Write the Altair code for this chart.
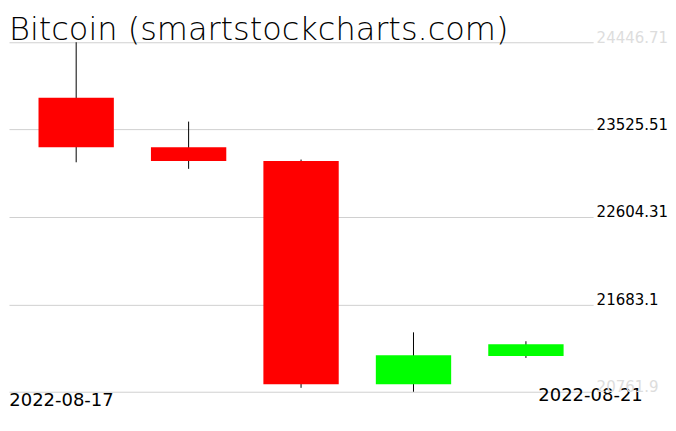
import pandas as pd
import altair as alt

# Daily candles
dates = ["2022-08-17", "2022-08-18", "2022-08-19", "2022-08-20", "2022-08-21"]
opens = [23862, 23339, 23195, 20840, 21139]
highs = [24446.71, 23610, 23210, 21388, 21294]
lows = [23181, 23112, 20803, 20761.9, 21118]
closes = [23339, 23195, 20840, 21146, 21262]

# right-axis tick values (min/max shown in light grey)
y_ticks = [20761.9, 21683.1, 22604.31, 23525.51, 24446.71]

df = pd.DataFrame({"date": dates, "open": opens, "high": highs, "low": lows, "close": closes})

first, last = dates[0], dates[-1]
is_first = f"datum.value == '{first}'"

x_enc = alt.X(
    "date:O",
    scale=alt.Scale(paddingInner=0.33, paddingOuter=0.2625),
    axis=alt.Axis(
        title=None, domain=False, ticks=False, grid=False,
        labelAngle=0, labelOverlap=False, labelBound=False,
        labelExpr=f"{is_first} || datum.value == '{last}' ? datum.label : ''",
        labelAlign={"condition": {"test": is_first, "value": "left"}, "value": "right"},
        labelOffset={"condition": {"test": is_first, "value": -67}, "value": 117},
        labelPadding={"condition": {"test": is_first, "value": 0}, "value": -5},
        labelBaseline="top",
        labelFont="DejaVu Sans", labelFontSize=18, labelColor="black",
    ),
)

y_scale = alt.Scale(domain=[y_ticks[0], y_ticks[-1]], nice=False, zero=False)
y_axis = alt.Axis(
    title=None, orient="right", values=y_ticks, domain=False, ticks=False,
    grid=True, gridColor="#d0d0d0", gridWidth=1,
    labelExpr="'' + datum.value",
    labelFont="DejaVu Sans", labelFontSize=15, labelPadding=3,
    labelBaseline="alphabetic", labelFlush=False, labelBound=False,
    labelColor={"condition": {"test": f"datum.value == {y_ticks[0]} || datum.value == {y_ticks[-1]}",
                              "value": "#dddddd"}, "value": "black"},
)

base = alt.Chart(df).encode(x=x_enc)

wicks = base.mark_rule(color="black", strokeWidth=1).encode(
    y=alt.Y("low:Q", scale=y_scale, axis=y_axis),
    y2="high:Q",
)

bodies = base.mark_bar().encode(
    y=alt.Y("open:Q", scale=y_scale, axis=y_axis),
    y2="close:Q",
    color=alt.condition("datum.open > datum.close", alt.value("#ff0000"), alt.value("#00ff00")),
)

chart = alt.layer(wicks, bodies).properties(
    width=585,
    height=350,
    title=alt.TitleParams(
        "Bitcoin (smartstockcharts.com)",
        anchor="start", frame="group",
        font="DejaVu Sans", fontSize=32, fontWeight=200, color="black",
        offset=-16.5,
    ),
    padding={"left": 0, "top": 5, "right": 0, "bottom": 0},
).configure_view(stroke=None)

chart.save("out.html", embed_options={"renderer": "svg", "actions": False})
